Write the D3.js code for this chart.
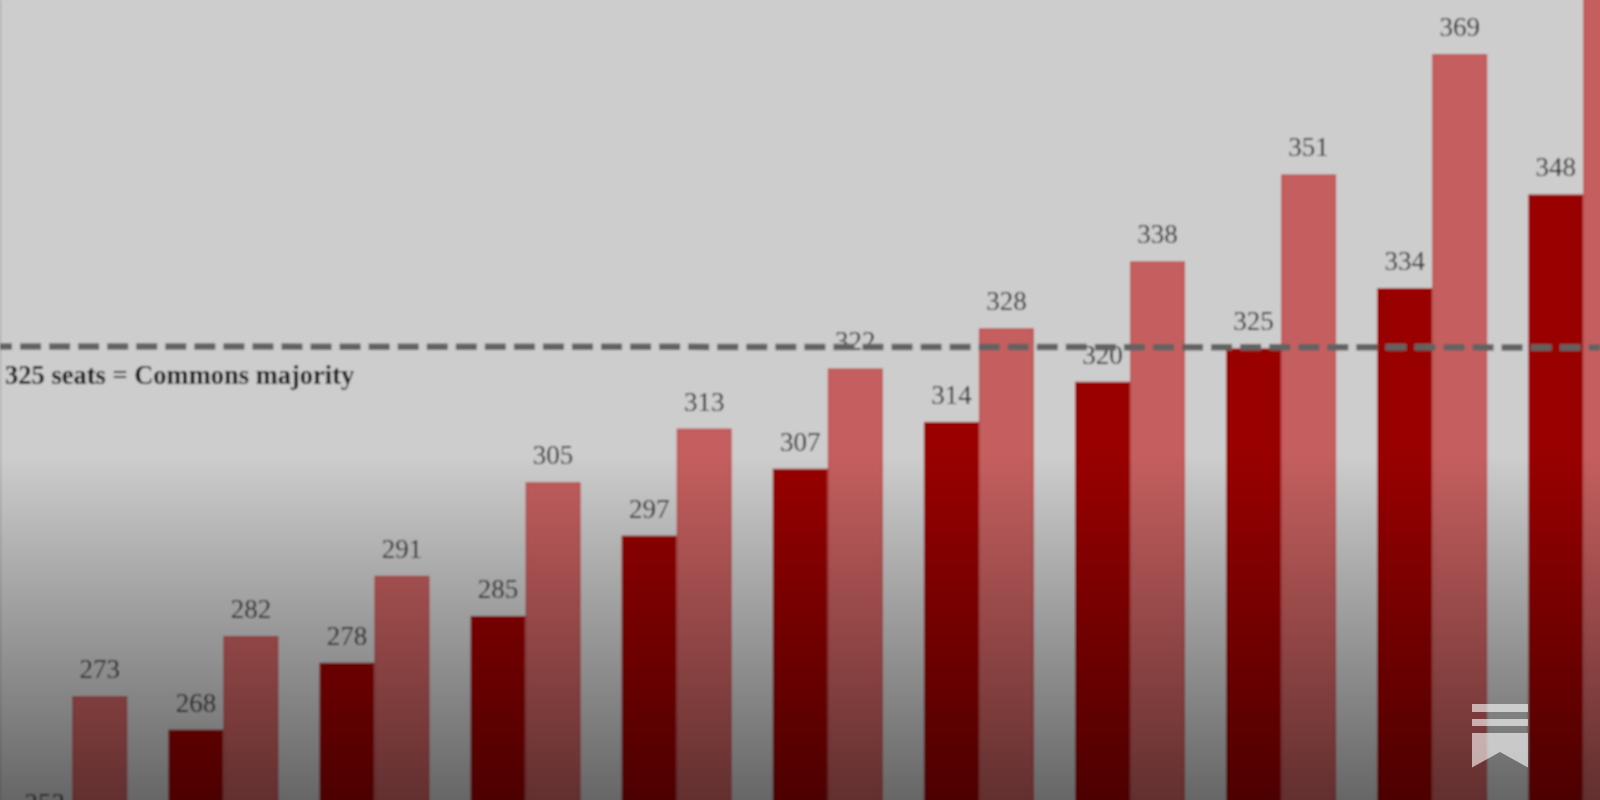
<!DOCTYPE html>
<html>
<head>
<meta charset="utf-8">
<script src="https://cdn.jsdelivr.net/npm/d3@7"></script>
<style>
  html, body { margin: 0; padding: 0; background: #cdcdcd; overflow: hidden; }
  svg { display: block; }
</style>
</head>
<body>
<div id="vis"></div>
<script>
const width = 1600;
const height = 800;

// scenario index, the axis labels are cropped out of the picture
const groups = ['0', '1', '2', '3', '4', '5', '6', '7', '8', '9', '10'];
const seriesNames = ['low', 'high'];
const lowSeats = [253, 268, 278, 285, 297, 307, 314, 320, 325, 334, 348];
const highSeats = [273, 282, 291, 305, 313, 322, 328, 338, 351, 369, 385];
const majority = 325;
const majorityLabel = '325 seats = Commons majority';

const colors = { low: '#990000', high: '#c55f5f' };

let vis = d3.select('#vis')
            .append('svg')
            .attr('width', width)
            .attr('height', height);

const defs = vis.append('defs');

// the reference is an enlarged thumbnail, so everything is slightly soft
defs.append('filter')
    .attr('id', 'soft')
    .attr('x', '-5%').attr('y', '-5%')
    .attr('width', '110%').attr('height', '110%')
    .append('feGaussianBlur')
    .attr('stdDeviation', 0.8);

// dark fade over the lower part of the image
const fade = defs.append('linearGradient')
    .attr('id', 'fade')
    .attr('x1', 0).attr('y1', 0)
    .attr('x2', 0).attr('y2', 1);
fade.append('stop').attr('offset', '0.57').attr('stop-color', '#000').attr('stop-opacity', 0);
fade.append('stop').attr('offset', '1').attr('stop-color', '#000').attr('stop-opacity', 0.5);

const y = d3.scaleLinear().domain([369, 253]).range([54, 830]);

const x0 = d3.scaleBand()
    .domain(groups)
    .range([17.3, 17.3 + 151.1 * (groups.length - 0.272)])
    .paddingInner(0.272)
    .paddingOuter(0);

const x1 = d3.scaleBand()
    .domain(seriesNames)
    .range([0, x0.bandwidth()]);

const rows = groups.map((g, i) => ({ group: g, low: lowSeats[i], high: highSeats[i] }));

// light bars carry a stroke, keep it inside the bar
const inset = d => d.series === 'high' ? 0.75 : 0;

const chart = vis.append('g').attr('filter', 'url(#soft)');

chart.append('rect')
    .attr('width', width)
    .attr('height', height)
    .attr('fill', '#cdcdcd');

// left axis line
chart.append('line')
    .attr('x1', 0.5).attr('x2', 0.5)
    .attr('y1', 0).attr('y2', height)
    .attr('stroke', '#999')
    .attr('stroke-width', 1);

const group = chart.selectAll('g.group')
    .data(rows)
    .enter()
    .append('g')
    .attr('class', 'group')
    .attr('transform', d => `translate(${x0(d.group)},0)`);

const cells = group.selectAll('g.cell')
    .data(d => seriesNames.map(s => ({ series: s, value: d[s] })))
    .enter()
    .append('g')
    .attr('class', 'cell');

cells.append('rect')
    .attr('x', d => x1(d.series) + inset(d))
    .attr('y', d => y(d.value) + inset(d))
    .attr('width', d => x1.bandwidth() - 2 * inset(d))
    .attr('height', d => Math.max(0, height + 40 - y(d.value)))
    .attr('fill', d => colors[d.series])
    .attr('stroke', d => d.series === 'high' ? '#bd4f4f' : 'none')
    .attr('stroke-width', 1.5);

cells.append('text')
    .attr('x', d => x1(d.series) + x1.bandwidth() / 2)
    .attr('y', d => y(d.value) - 18)
    .attr('text-anchor', 'middle')
    .attr('font-family', '"Liberation Serif", serif')
    .attr('font-size', 27)
    .attr('fill', '#222')
    .text(d => d.value);

// majority line
chart.append('line')
    .attr('x1', 0).attr('x2', width)
    .attr('y1', y(majority) - 1.9).attr('y2', y(majority) - 0.9)
    .attr('stroke', '#626262')
    .attr('stroke-width', 6.5)
    .attr('stroke-dasharray', '21 8.05')
    .attr('stroke-dashoffset', 9);

chart.append('text')
    .attr('x', 5)
    .attr('y', 384)
    .attr('font-family', '"Liberation Serif", serif')
    .attr('font-size', 26.5)
    .attr('font-weight', 'bold')
    .attr('fill', '#000')
    .text(majorityLabel);

vis.append('rect')
    .attr('width', width)
    .attr('height', height)
    .attr('fill', 'url(#fade)');

// publisher mark, bottom right
const mark = vis.append('g').attr('fill', '#fff').attr('fill-opacity', 0.6);
mark.append('rect').attr('x', 1472).attr('y', 704).attr('width', 56).attr('height', 8);
mark.append('rect').attr('x', 1472).attr('y', 719).attr('width', 56).attr('height', 7);
mark.append('path').attr('d', 'M1472 733H1528V767.5L1500 752L1472 767.5Z');
</script>
</body>
</html>
